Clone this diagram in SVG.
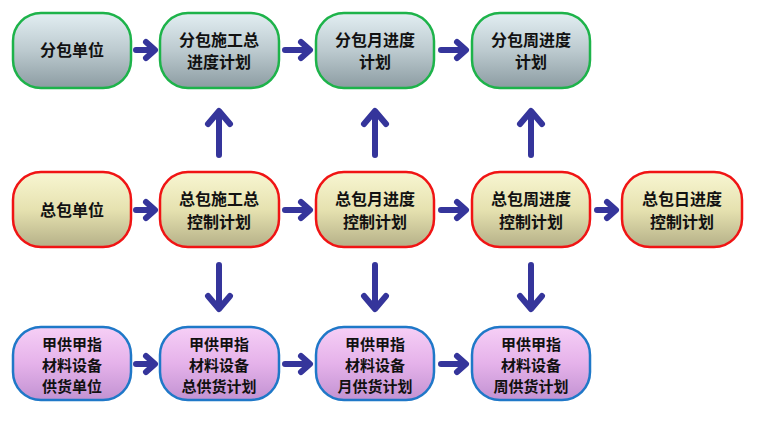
<svg xmlns="http://www.w3.org/2000/svg" width="760" height="424" viewBox="0 0 760 424">
<defs>
<linearGradient id="g1" x1="0" y1="0" x2="0" y2="1"><stop offset="0" stop-color="#e2eef2"/><stop offset="0.5" stop-color="#bccacf"/><stop offset="1" stop-color="#8c9ca2"/></linearGradient>
<linearGradient id="g2" x1="0" y1="0" x2="0" y2="1"><stop offset="0" stop-color="#f8f6d2"/><stop offset="0.5" stop-color="#e6e2b0"/><stop offset="1" stop-color="#b5b088"/></linearGradient>
<linearGradient id="g3" x1="0" y1="0" x2="0" y2="1"><stop offset="0" stop-color="#f6cff6"/><stop offset="0.5" stop-color="#e5b2ea"/><stop offset="1" stop-color="#c292d2"/></linearGradient>
</defs>
<style>
.n1{fill:url(#g1);stroke:#1db34a;stroke-width:2.5}
.n2{fill:url(#g2);stroke:#f01414;stroke-width:2.5}
.n3{fill:url(#g3);stroke:#1f78c8;stroke-width:2.5}
text{font-family:"Noto Sans CJK SC","Noto Sans",sans-serif;font-weight:bold;font-size:16px;fill:#111;text-anchor:middle}
.t3{font-size:15px}
.c path{stroke:#35359b;stroke-width:6;fill:none;stroke-linecap:round;stroke-linejoin:round}
</style>
<rect width="760" height="424" fill="#fff"/>
<g id="a1"><rect class="n1" x="13" y="13" width="118" height="75" rx="28"/><text x="72" y="56">分包单位</text></g>
<g id="a2"><rect class="n1" x="160" y="13" width="119" height="75" rx="28"/><text x="219" y="46">分包施工总</text><text x="219" y="68">进度计划</text></g>
<g id="a3"><rect class="n1" x="316" y="13" width="118" height="75" rx="28"/><text x="375" y="46">分包月进度</text><text x="375" y="68">计划</text></g>
<g id="a4"><rect class="n1" x="472" y="13" width="118" height="75" rx="28"/><text x="531" y="46">分包周进度</text><text x="531" y="68">计划</text></g>
<g id="b1"><rect class="n2" x="13" y="172" width="118" height="75" rx="28"/><text x="72" y="216">总包单位</text></g>
<g id="b2"><rect class="n2" x="160" y="172" width="119" height="75" rx="28"/><text x="219" y="205">总包施工总</text><text x="219" y="228">控制计划</text></g>
<g id="b3"><rect class="n2" x="316" y="172" width="118" height="75" rx="28"/><text x="375" y="205">总包月进度</text><text x="375" y="228">控制计划</text></g>
<g id="b4"><rect class="n2" x="472" y="172" width="118" height="75" rx="28"/><text x="531" y="205">总包周进度</text><text x="531" y="228">控制计划</text></g>
<g id="b5"><rect class="n2" x="622" y="172" width="120" height="75" rx="28"/><text x="682" y="205">总包日进度</text><text x="682" y="228">控制计划</text></g>
<g id="c1" class="t3"><rect class="n3" x="13" y="327" width="118" height="73" rx="28"/><text class="t3" x="72" y="350">甲供甲指</text><text class="t3" x="72" y="371">材料设备</text><text class="t3" x="72" y="392">供货单位</text></g>
<g id="c2"><rect class="n3" x="160" y="327" width="119" height="73" rx="28"/><text class="t3" x="219" y="350">甲供甲指</text><text class="t3" x="219" y="371">材料设备</text><text class="t3" x="219" y="392">总供货计划</text></g>
<g id="c3"><rect class="n3" x="316" y="327" width="118" height="73" rx="28"/><text class="t3" x="375" y="350">甲供甲指</text><text class="t3" x="375" y="371">材料设备</text><text class="t3" x="375" y="392">月供货计划</text></g>
<g id="c4"><rect class="n3" x="472" y="327" width="118" height="73" rx="28"/><text class="t3" x="531" y="350">甲供甲指</text><text class="t3" x="531" y="371">材料设备</text><text class="t3" x="531" y="392">周供货计划</text></g>
<g class="c" id="connectors">
<path d="M136,50 H154 M146,42 L155,50 L146,58"/><path d="M285,50 H309 M301,42 L310,50 L301,58"/><path d="M441,50 H465 M457,42 L466,50 L457,58"/>
<path d="M136,210 H154 M146,202 L155,210 L146,218"/><path d="M285,210 H309 M301,202 L310,210 L301,218"/><path d="M441,210 H465 M457,202 L466,210 L457,218"/><path d="M597,210 H615 M607,202 L616,210 L607,218"/>
<path d="M136,364 H154 M146,356 L155,364 L146,372"/><path d="M285,364 H309 M301,356 L310,364 L301,372"/><path d="M441,364 H465 M457,356 L466,364 L457,372"/>
<path d="M219,155 V112 M208,124 L219,111 L230,124"/><path d="M375,155 V112 M364,124 L375,111 L386,124"/><path d="M531,155 V112 M520,124 L531,111 L542,124"/>
<path d="M219,265 V308 M208,296 L219,309 L230,296"/><path d="M375,265 V308 M364,296 L375,309 L386,296"/><path d="M531,265 V308 M520,296 L531,309 L542,296"/>
</g>
</svg>
